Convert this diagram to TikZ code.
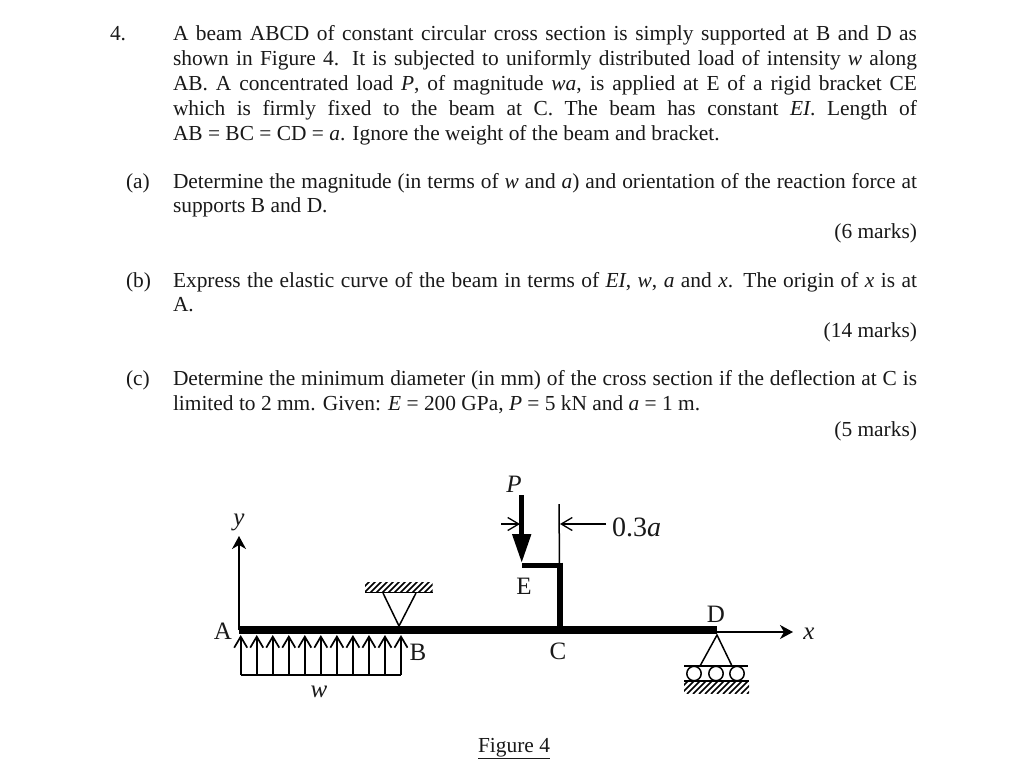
\documentclass[tikz,border=0pt]{standalone}
\usepackage{fontspec}
\setmainfont{Liberation Serif}
\usetikzlibrary{arrows.meta}
\newcommand{\bodysize}{\fontsize{21.4}{25}\selectfont}
\newcommand{\figsize}{\fontsize{25}{29}\selectfont}
\tikzset{
  every node/.style={inner sep=0pt,outer sep=0pt,text=black!90},
  jline/.style={anchor=base west},
  lbl/.style={anchor=base west,font=\bodysize},
  marks/.style={anchor=base east,font=\bodysize},
  figlbl/.style={anchor=center,font=\figsize},
  beam/.style={line width=8.5pt,black},
  bracket/.style={line width=6pt,black},
  thin line/.style={line width=1.5pt,black},
  axis/.style={line width=1.5pt,black,-{Stealth[length=13pt,width=14pt,inset=4pt]}},
  udl/.style={line width=1.6pt,black,-{Straight Barb[length=11pt,width=13pt,line width=1.7pt]}},
  dim/.style={line width=1.3pt,black,-{Straight Barb[length=11pt,width=13pt,line width=1.3pt]}},
  hatch/.style={line width=1.7pt,black},
  load/.style={line width=5pt,black,-{Triangle[length=29pt,width=18pt]}},
}
\newcommand{\txtline}[4]{\node[jline] (#1) at (#2,#3) {\hbox to 744pt{\bodysize #4}};}
\begin{document}
\begin{tikzpicture}[x=1pt,y=-1pt]
\useasboundingbox (0,0) rectangle (1024,776);
\fill[white] (0,0) rectangle (1024,776);
% text
\node[lbl] (qn) at (110,40.5) {4.};
\txtline{t1}{173}{40.5}{A beam ABCD of constant circular cross section is simply supported at B and D as}
\txtline{t2}{173}{65.5}{shown in Figure 4. It is subjected to uniformly distributed load of intensity \textit{w} along}
\txtline{t3}{173}{90}{AB. A concentrated load \textit{P}, of magnitude \textit{wa}, is applied at E of a rigid bracket CE}
\txtline{t4}{173}{115}{which is firmly fixed to the beam at C. The beam has constant \textit{EI}. Length of}
\node[lbl] (t5) at (173,140) {AB = BC = CD = \textit{a}. Ignore the weight of the beam and bracket.};
\node[lbl] (la) at (126,188.5) {(a)};
\txtline{a1}{173}{188.5}{Determine the magnitude (in terms of \textit{w} and \textit{a}) and orientation of the reaction force at}
\node[lbl] (a2) at (173,212.5) {supports B and D.};
\node[marks] (ma) at (917,238.5) {(6 marks)};
\node[lbl] (lb) at (126,287) {(b)};
\txtline{b1}{173}{287}{Express the elastic curve of the beam in terms of \textit{EI}, \textit{w}, \textit{a} and \textit{x}.  The origin of \textit{x} is at}
\node[lbl] (b2) at (173,311) {A.};
\node[marks] (mb) at (917,337.5) {(14 marks)};
\node[lbl] (lc) at (126,385.5) {(c)};
\txtline{c1}{173}{385.5}{Determine the minimum diameter (in mm) of the cross section if the deflection at C is}
\node[lbl] (c2) at (173,410.5) {limited to 2 mm. Given: \textit{E} = 200 GPa, \textit{P} = 5 kN and \textit{a} = 1 m.};
\node[marks] (mc) at (917,436.5) {(5 marks)};
% coordinates
\coordinate (A) at (239,630);
\coordinate (Cp) at (559.5,630);
\coordinate (Dp) at (717,630);
\coordinate (Ep) at (522,565);
\coordinate (Ec) at (559.5,565);
\coordinate (Ytip) at (239,536);
\coordinate (Xs) at (717,632);
\coordinate (Xtip) at (793,632);
\coordinate (Ptop) at (521.7,495);
\coordinate (Ptip) at (521.7,563);
% axes
\draw[axis] (A) -- (Ytip);
\draw[axis] (Xs) -- (Xtip);
% beam and bracket
\draw[beam] (A) -- (Dp);
\draw[line width=5pt,black] (Ep) -- (Ec);
\draw[bracket] (559.5,562.5) -- (Cp);
% extension line and dimension
\coordinate (Ext) at (559,504);
\draw[thin line] (Ext) -- (Ec);
\coordinate (DL) at (501,524);
\coordinate (DLe) at (520,524);
\coordinate (DR) at (606,524);
\coordinate (DRe) at (560,524);
\draw[dim] (DL) -- (DLe);
\draw[dim] (DR) -- (DRe);
% load P
\draw[load] (Ptop) -- (Ptip);
% UDL
\foreach \i in {0,...,10}{
  \coordinate (u\i) at ({240.7+16.03*\i},675);
  \coordinate (v\i) at ({240.7+16.03*\i},635);
  \draw[udl] (u\i) -- (v\i);
}
\draw[thin line] (u0) -- (u10);
% support B
\coordinate (Ba) at (399,626);
\coordinate (Bl) at (383,593);
\coordinate (Br) at (416,593);
\draw[thin line] (Bl) -- (Ba) -- (Br);
\coordinate (Bhl) at (365,592.7);
\coordinate (Bhr) at (432.5,592.7);
\draw[thin line] (Bhl) -- (Bhr);
\begin{scope}
\clip (365,582) rectangle (432.5,592.7);
\foreach \i in {0,...,13}{
  \draw[hatch] ({358+\i*6},593) -- ({370+\i*6},581);
}
\end{scope}
% support D
\coordinate (Da) at (717,635);
\coordinate (Dl) at (700,666);
\coordinate (Dr) at (732,666);
\draw[thin line] (Dl) -- (Da) -- (Dr);
\coordinate (Dtl) at (684,666);
\coordinate (Dtr) at (748,666);
\draw[thin line] (Dtl) -- (Dtr);
\coordinate (Dbl) at (684,681);
\coordinate (Dbr) at (749,681);
\draw[thin line] (Dbl) -- (Dbr);
\foreach \x in {694,716,737}{ \draw[thin line] (\x,673.5) circle (7.2); }
\begin{scope}
\clip (684,681) rectangle (749,693);
\foreach \i in {0,...,13}{
  \draw[hatch] ({675+\i*6},694) -- ({688+\i*6},681);
}
\end{scope}
% labels
\node[figlbl] (lA) at (223,631) {A};
\node[figlbl] (lB) at (418,652) {B};
\node[figlbl] (lC) at (558,651) {C};
\node[figlbl] (lD) at (716,614) {D};
\node[figlbl] (lE) at (524,586) {E};
\node[figlbl] (lP) at (514,484) {\textit{P}};
\node[figlbl] (ly) at (239,522) {\textit{y}};
\node[figlbl] (lw) at (319,692) {\textit{w}};
\node[figlbl] (lx) at (809,634) {\textit{x}};
\node[anchor=base west,font=\fontsize{28}{32}\selectfont] (l03) at (612,536) {0.3\textit{a}};
\node[anchor=base,font=\bodysize] (fig) at (514,752) {\underline{Figure 4}};
\end{tikzpicture}
\end{document}
